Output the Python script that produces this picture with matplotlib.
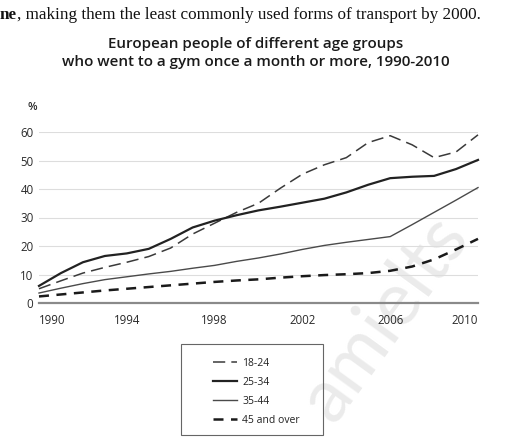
import matplotlib
matplotlib.use("Agg")
import matplotlib.pyplot as plt
from matplotlib.patches import Rectangle

years = list(range(1990, 2011))
s_18_24 = [5.0, 7.8, 10.5, 12.5, 14.3, 16.3, 19.3, 24.2, 28.0, 31.8, 35.0,
           40.3, 45.2, 48.5, 51.0, 56.3, 58.7, 55.5, 51.0, 53.0, 59.0]
s_25_34 = [6.0, 10.5, 14.3, 16.5, 17.4, 19.0, 22.5, 26.5, 28.9, 30.8, 32.5,
           33.8, 35.2, 36.6, 38.8, 41.5, 43.8, 44.3, 44.6, 47.0, 50.2]
s_35_44 = [3.5, 5.2, 6.8, 8.2, 9.2, 10.2, 11.1, 12.2, 13.2, 14.6, 15.8,
           17.2, 18.8, 20.2, 21.3, 22.3, 23.3, 27.5, 31.8, 36.1, 40.5]
s_45_over = [2.3, 3.0, 3.7, 4.4, 5.0, 5.6, 6.2, 6.8, 7.4, 7.9, 8.3,
             8.9, 9.4, 9.8, 10.1, 10.5, 11.3, 12.8, 15.3, 18.8, 22.5]
series_labels = ["18-24", "25-34", "35-44", "45 and over"]
x_ticks = [1990, 1994, 1998, 2002, 2006, 2010]
y_ticks = [0, 10, 20, 30, 40, 50, 60]

title = "European people of different age groups\nwho went to a gym once a month or more, 1990-2010"

W, H = 512, 437
fig = plt.figure(figsize=(W / 100, H / 100), dpi=100)
fig.patch.set_facecolor("white")

def fx(px):
    return px / W

def fy(py):
    return 1 - py / H

renderer = fig.canvas.get_renderer()

# top page text (serif, with bold start)
t1 = fig.text(fx(0), fy(15), "ne", fontsize=12.3, family="Liberation Serif",
              fontweight="bold", va="center", ha="left", color="#111111")
bb = t1.get_window_extent(renderer=renderer)
fig.text(bb.x1 / W, fy(15), ", making them the least commonly used forms of transport by 2000.",
         fontsize=12.3, family="Liberation Serif", va="center", ha="left", color="#111111")

# watermark
fig.text(fx(384), fy(318), "amielts", fontsize=54, family="Lato", color="#ebebeb",
         rotation=54, ha="center", va="center", zorder=-5)

fig.text(fx(256), fy(53), title, fontsize=10.9, family="Open Sans", fontweight="semibold",
         ha="center", va="center", linespacing=1.3, color="#1a1a1a")

ax = fig.add_axes([fx(39), fy(303), fx(478) - fx(39), fy(132) - fy(303)])
ax.set_facecolor("none")

l1, = ax.plot(years, s_18_24, color="#3a3a3a", lw=1.1, dashes=(8, 4), clip_on=False, zorder=3)
l2, = ax.plot(years, s_25_34, color="#222222", lw=1.6, clip_on=False, zorder=3)
l3, = ax.plot(years, s_35_44, color="#4a4a4a", lw=1.0, clip_on=False, zorder=3)
l4, = ax.plot(years, s_45_over, color="#1a1a1a", lw=1.8, dashes=(4, 3), clip_on=False, zorder=3)

ax.set_xlim(1990, 2010)
ax.set_ylim(0, 60)
for v in y_ticks[1:]:
    ax.axhline(v, color="#dddddd", lw=0.8, zorder=1)
ax.axhline(0, color="#8a8a8a", lw=1.6, zorder=2, clip_on=False)

for s in ax.spines.values():
    s.set_visible(False)
ax.set_yticks(y_ticks)
ax.set_xticks(x_ticks)
ax.set_xticklabels([str(v) for v in x_ticks])
ax.tick_params(length=0, labelsize=8.3, labelcolor="#2a2a2a")
ax.tick_params(axis="y", pad=4)
ax.tick_params(axis="x", pad=8)
for lab in ax.get_xticklabels() + ax.get_yticklabels():
    lab.set_family("Open Sans")
xl = ax.get_xticklabels()
xl[0].set_ha("left")
xl[-1].set_ha("right")

fig.text(fx(32), fy(107), "%", fontsize=8, family="Open Sans", ha="center", va="center",
         color="#2a2a2a", fontweight="semibold")

# legend box
fig.patches.append(Rectangle((fx(181), fy(435)), fx(323) - fx(181), fy(344) - fy(435),
                             transform=fig.transFigure, fill=False, edgecolor="#666666",
                             lw=0.8, figure=fig))
leg = fig.legend([l1, l2, l3, l4], series_labels, loc="upper left",
                 bbox_to_anchor=(fx(213), fy(358)), bbox_transform=fig.transFigure,
                 frameon=False, handlelength=2.3, handletextpad=0.5,
                 labelspacing=0.76, borderpad=0, borderaxespad=0,
                 prop={"family": "Open Sans", "size": 7.5})
for t in leg.get_texts():
    t.set_color("#222222")

fig.savefig("out.png", dpi=100)
